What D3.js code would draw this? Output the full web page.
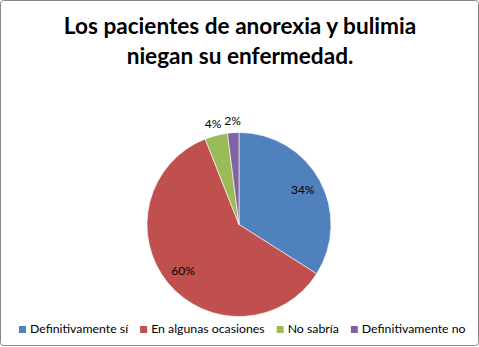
<!DOCTYPE html>
<html><head><meta charset="utf-8">
<script src="https://cdn.jsdelivr.net/npm/d3@7/dist/d3.min.js"></script>
<style>body{margin:0;background:#fff}svg{display:block}</style>
</head><body>
<svg id="c" width="479" height="347"></svg>
<script>
const titleLines = ["Los pacientes de anorexia y bulimia", "niegan su enfermedad."];
const categories = ["Definitivamente sí", "En algunas ocasiones", "No sabría", "Definitivamente no"];
const values = [34, 60, 4, 2];
const colors = ["#4F81BD", "#C0504D", "#9BBB59", "#8064A2"];

const svg = d3.select("#c");
const W = 479, H = 347;
svg.append("rect").attr("x",0.5).attr("y",0.5).attr("width",W-1).attr("height",H-2)
  .attr("rx",3).attr("fill","#fff").attr("stroke","#868686").attr("stroke-width",1);

const font = "Lato, 'Open Sans', sans-serif";
svg.selectAll("text.title").data(titleLines).join("text")
  .attr("class","title").attr("x",240).attr("y",(d,i)=>34+i*29.5)
  .attr("text-anchor","middle").attr("font-family",font).attr("font-weight","bold")
  .attr("font-size",22.6).attr("fill","#000").text(d=>d);

const cx = 239, cy = 224.5, r = 92;
const total = d3.sum(values);
const pie = d3.pie().sort(null).value(d=>d)(values);
const arc = d3.arc().innerRadius(0).outerRadius(r);
const g = svg.append("g").attr("transform",`translate(${cx},${cy})`);
g.selectAll("path").data(pie).join("path").attr("d",arc)
  .attr("fill",(d,i)=>colors[i]).attr("stroke","#fff").attr("stroke-width",0.6);

const inArc = d3.arc().innerRadius(r*0.79).outerRadius(r*0.79);
const outArc = d3.arc().innerRadius(r+12).outerRadius(r+12);
g.selectAll("text.lbl").data(pie).join("text").attr("class","lbl")
  .attr("transform",d=>{
    const p = (d.data/total) < 0.1 ? outArc.centroid(d) : inArc.centroid(d);
    return `translate(${p[0]},${p[1]})`;
  })
  .attr("text-anchor","middle").attr("dominant-baseline","central")
  .attr("font-family",font).attr("font-size",12).attr("fill","#000")
  .text(d=>Math.round(d.data/total*100)+"%");

// legend
const lg = svg.append("g");
const items = lg.selectAll("g").data(categories).join("g");
items.append("rect").attr("width",7).attr("height",7).attr("y",-7).attr("fill",(d,i)=>colors[i]);
items.append("text").attr("x",11).attr("y",0).attr("font-family",font).attr("font-size",12.3)
  .attr("fill","#000").text(d=>d);
const widths = [];
items.each(function(){ const w = 11 + d3.select(this).select("text").node().getComputedTextLength(); widths.push(w); });
const gap = 12;
let x = 19;
items.attr("transform",(d,i)=>{ const t=`translate(${x},${333})`; x += widths[i]+gap; return t; });
</script>
</body></html>
